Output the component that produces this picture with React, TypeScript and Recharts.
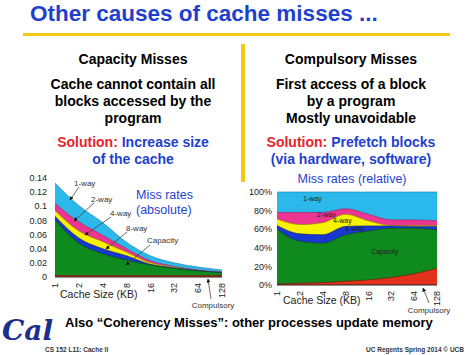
import { AreaChart, Area, XAxis, YAxis } from 'recharts'

// cache size in KB
const sizes = ['1', '2', '4', '8', '16', '32', '64', '128']

// absolute miss rates (top edge of each band)
const absOneWay = [0.133, 0.101, 0.077, 0.049, 0.030, 0.020, 0.014, 0.010]
const absTwoWay = [0.104, 0.078, 0.059, 0.040, 0.023, 0.015, 0.010, 0.007]
const absFourWay = [0.094, 0.065, 0.050, 0.035, 0.020, 0.014, 0.009, 0.0065]
const absEightWay = [0.086, 0.055, 0.040, 0.030, 0.018, 0.013, 0.009, 0.0064]
const absCapacity = [0.081, 0.048, 0.033, 0.024, 0.017, 0.012, 0.0085, 0.006]
const absCompulsory = [0.002, 0.002, 0.002, 0.002, 0.002, 0.002, 0.002, 0.002]
const absTicks = [0, 0.02, 0.04, 0.06, 0.08, 0.1, 0.12, 0.14]

// relative miss rates in percent (top edge of each band)
const relOneWay = [100, 100, 100, 100, 100, 100, 100, 100]
const relTwoWay = [78, 78, 78, 82, 76, 70, 70, 69]
const relFourWay = [71, 65, 67, 76, 69, 64, 64, 64]
const relEightWay = [64, 55, 54, 63, 63.5, 63.5, 63, 63]
const relCapacity = [60, 47, 45, 54, 58, 61, 61, 59]
const relCompulsory = [1, 2, 2.5, 4, 5.5, 8, 12, 18]
const relTicks = [0, 20, 40, 60, 80, 100]

const absData = sizes.map((size, i) => ({
  size,
  oneWay: absOneWay[i],
  twoWay: absTwoWay[i],
  fourWay: absFourWay[i],
  eightWay: absEightWay[i],
  capacity: absCapacity[i],
  compulsory: absCompulsory[i],
}))

const relData = sizes.map((size, i) => ({
  size,
  oneWay: relOneWay[i],
  twoWay: relTwoWay[i],
  fourWay: relFourWay[i],
  eightWay: relEightWay[i],
  capacity: relCapacity[i],
  compulsory: relCompulsory[i],
}))

// painted back to front, each band filled down to zero
const layers = [
  { key: 'oneWay', fill: '#2bb8ea', stroke: '#1a7fb0' },
  { key: 'twoWay', fill: '#ec3590', stroke: '#a0205f' },
  { key: 'fourWay', fill: '#f7f200', stroke: '#8a8600' },
  { key: 'eightWay', fill: '#1838d0', stroke: '#0c1d7a' },
  { key: 'capacity', fill: '#0e8a1e', stroke: '#064a10' },
  { key: 'compulsory', fill: '#e2321c', stroke: '#6a1208' },
]

const SANS = "'Liberation Sans', Arial, Helvetica, sans-serif"
const BLUE = '#1f3fcf'
const RED = '#e5242c'

function RotatedTick({ x, y, payload }: any) {
  const ty = y - 2
  return (
    <text
      x={x}
      y={ty}
      transform={`rotate(-90, ${x}, ${ty})`}
      textAnchor="end"
      dy="0.35em"
      fontSize={9}
      fill="#222"
      fontFamily={SANS}
    >
      {payload.value}
    </text>
  )
}

function renderBands() {
  return layers.map((l) => (
    <Area
      key={l.key}
      type="monotone"
      dataKey={l.key}
      fill={l.fill}
      fillOpacity={1}
      stroke={l.stroke}
      strokeWidth={0.6}
      dot={false}
      activeDot={false}
      isAnimationActive={false}
    />
  ))
}

function AbsoluteChart() {
  return (
    <AreaChart width={240} height={130} data={absData} margin={{ top: 8, right: 18, bottom: 0, left: 0 }}>
      <XAxis dataKey="size" height={23} interval={0} tickLine={false} axisLine={{ stroke: '#222' }} tick={<RotatedTick />} />
      <YAxis
        width={55}
        domain={[0, 0.14]}
        ticks={absTicks}
        interval={0}
        tickLine={false}
        axisLine={false}
        tick={{ fontSize: 9, fill: '#222', fontFamily: SANS }}
      />
      {renderBands()}
    </AreaChart>
  )
}

function RelativeChart() {
  return (
    <AreaChart width={200} height={126} data={relData} margin={{ top: 10, right: 8, bottom: 0, left: 0 }}>
      <XAxis dataKey="size" height={23} interval={0} tickLine={false} axisLine={{ stroke: '#222' }} tick={<RotatedTick />} />
      <YAxis
        width={32}
        domain={[0, 100]}
        ticks={relTicks}
        interval={0}
        tickSize={0}
        tickMargin={5}
        tickLine={false}
        axisLine={false}
        tickFormatter={(v) => `${v}%`}
        tick={{ fontSize: 9, fill: '#222', fontFamily: SANS }}
      />
      {renderBands()}
    </AreaChart>
  )
}

const abs = (left: number, top: number, extra: any = {}) => ({ position: 'absolute' as const, left, top, ...extra })

const bodyText = { fontSize: 14, fontWeight: 'bold' as const, lineHeight: '17px', textAlign: 'center' as const }

export default function App() {
  return (
    <div style={{ position: 'absolute', left: 0, top: 0, width: 474, height: 355, background: '#fff', fontFamily: SANS, overflow: 'hidden' }}>
      {/* title and rules */}
      <div style={abs(30, 0, { fontSize: 22.5, fontWeight: 'bold', lineHeight: '28px', color: BLUE, whiteSpace: 'nowrap' })}>
        Other causes of cache misses ...
      </div>
      <div style={abs(23, 33, { width: 427, height: 3, background: '#f5c814' })} />
      <div style={abs(241, 44, { width: 4, height: 138, background: '#f5c814' })} />

      {/* left column */}
      <div style={abs(20, 51, { width: 226, ...bodyText })}>Capacity Misses</div>
      <div style={abs(20, 76, { width: 226, ...bodyText })}>
        Cache cannot contain all
        <br />
        blocks accessed by the
        <br />
        program
      </div>
      <div style={abs(20, 134, { width: 226, ...bodyText, color: BLUE })}>
        <span style={{ color: RED }}>Solution:</span> Increase size
        <br />
        of the cache
      </div>

      {/* right column */}
      <div style={abs(240, 51, { width: 222, ...bodyText })}>Compulsory Misses</div>
      <div style={abs(240, 76, { width: 222, ...bodyText })}>
        First access of a block
        <br />
        by a program
        <br />
        Mostly unavoidable
      </div>
      <div style={abs(240, 134, { width: 222, ...bodyText, color: BLUE })}>
        <span style={{ color: RED }}>Solution:</span> Prefetch blocks
        <br />
        (via hardware, software)
      </div>

      {/* charts */}
      <div style={abs(0, 170)}>
        <AbsoluteChart />
      </div>
      <div style={abs(245, 182)}>
        <RelativeChart />
      </div>

      <div style={abs(136, 188, { fontSize: 12.5, lineHeight: '15px', color: BLUE })}>
        Miss rates
        <br />
        (absolute)
      </div>
      <div style={abs(292, 172, { width: 120, textAlign: 'center', fontSize: 12.5, lineHeight: '15px', color: BLUE })}>
        Miss rates (relative)
      </div>
      <div style={abs(60, 288, { fontSize: 10.5, lineHeight: '12px', color: '#222' })}>Cache Size (KB)</div>
      <div style={abs(283, 294, { fontSize: 10.5, lineHeight: '12px', color: '#222' })}>Cache Size (KB)</div>

      {/* annotations */}
      <svg width={474} height={355} style={abs(0, 0, { pointerEvents: 'none' })}>
        <defs>
          <marker id="arrowhead" viewBox="0 0 10 10" refX="9" refY="5" markerWidth="5" markerHeight="5" orient="auto">
            <path d="M0,0 L10,5 L0,10 z" fill="#111" />
          </marker>
        </defs>
        <g fontFamily={SANS} fontSize={8} fill="#333">
          <text x={74} y={183} dy="0.35em">1-way</text>
          <text x={91} y={199} dy="0.35em">2-way</text>
          <text x={110} y={213} dy="0.35em">4-way</text>
          <text x={126} y={228} dy="0.35em">8-way</text>
          <text x={147} y={240} dy="0.35em">Capacity</text>
          <text x={213} y={305} dy="0.35em" textAnchor="middle">Compulsory</text>
          <text x={429} y={310} dy="0.35em" textAnchor="middle">Compulsory</text>
        </g>
        <g stroke="#444" strokeWidth={0.8} markerEnd="url(#arrowhead)">
          <line x1={79} y1={187} x2={70} y2={200} />
          <line x1={94} y1={203} x2={74} y2={221} />
          <line x1={111} y1={217} x2={85} y2={235} />
          <line x1={127} y1={232} x2={106} y2={249} />
          <line x1={150} y1={245} x2={126} y2={265} />
          <line x1={211} y1={299} x2={208} y2={279} />
          <line x1={429} y1={303} x2={423} y2={288} />
        </g>
        <g fontFamily={SANS} fontSize={7} fill="#222">
          <text x={303} y={199} dy="0.35em">1-way</text>
          <text x={317} y={215} dy="0.35em">2-way</text>
          <text x={333} y={221} dy="0.35em">4-way</text>
          <text x={345} y={229} dy="0.35em">8-way</text>
          <text x={371} y={252} dy="0.35em">Capacity</text>
        </g>
      </svg>

      {/* footer */}
      <div style={abs(2, 314, { fontFamily: "'DejaVu Serif', serif", fontStyle: 'italic', fontWeight: 'bold', fontSize: 28, lineHeight: '34px', color: '#1c2f8c' })}>
        Cal
      </div>
      <div style={abs(65, 315, { fontSize: 13, fontWeight: 'bold', lineHeight: '16px', whiteSpace: 'nowrap' })}>
        Also “Coherency Misses”: other processes update memory
      </div>
      <div style={abs(45, 346, { fontSize: 6.5, fontWeight: 'bold', lineHeight: '8px', color: '#333', whiteSpace: 'nowrap' })}>CS 152 L11: Cache II</div>
      <div style={{ position: 'absolute', right: 10, top: 346, fontSize: 6.5, fontWeight: 'bold', lineHeight: '8px', color: '#333', whiteSpace: 'nowrap' }}>
        UC Regents Spring 2014 © UCB
      </div>
    </div>
  )
}
